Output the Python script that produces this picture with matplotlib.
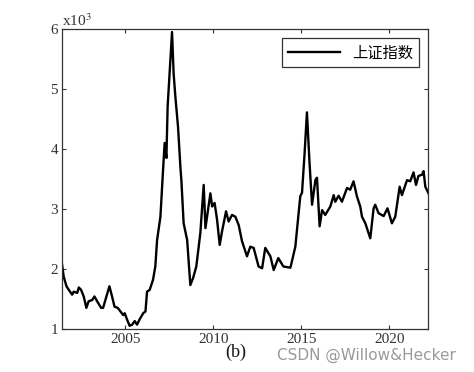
import matplotlib.pyplot as plt

# Shanghai composite index (in thousands)
years = [2001.40, 2001.49, 2001.65, 2001.78, 2001.97, 2002.06, 2002.26, 2002.35,
         2002.48, 2002.63, 2002.78, 2002.91, 2003.11, 2003.24, 2003.39, 2003.62,
         2003.73, 2003.92, 2004.09, 2004.24, 2004.38, 2004.56, 2004.72, 2004.87,
         2004.96, 2005.10, 2005.24, 2005.38, 2005.53, 2005.66, 2005.81, 2006.01,
         2006.14, 2006.23, 2006.38, 2006.57, 2006.70, 2006.80, 2006.99, 2007.14,
         2007.23, 2007.33, 2007.40, 2007.65, 2007.74, 2007.84, 2007.99, 2008.13,
         2008.18, 2008.31, 2008.51, 2008.69, 2008.85, 2009.03, 2009.26, 2009.45,
         2009.55, 2009.83, 2009.93, 2010.07, 2010.21, 2010.36, 2010.49, 2010.72,
         2010.87, 2011.06, 2011.25, 2011.44, 2011.63, 2011.91, 2012.10, 2012.29,
         2012.57, 2012.77, 2012.95, 2013.24, 2013.43, 2013.69, 2013.98, 2014.38,
         2014.66, 2014.94, 2015.04, 2015.18, 2015.32, 2015.46, 2015.61, 2015.80,
         2015.89, 2016.04, 2016.18, 2016.36, 2016.65, 2016.84, 2016.93, 2017.12,
         2017.31, 2017.60, 2017.78, 2017.97, 2018.16, 2018.35, 2018.45, 2018.64,
         2018.92, 2019.11, 2019.20, 2019.39, 2019.68, 2019.90, 2020.15, 2020.34,
         2020.59, 2020.72, 2021.01, 2021.19, 2021.38, 2021.52, 2021.66, 2021.86,
         2021.95, 2022.05, 2022.23]
index_k = [2.07, 1.87, 1.71, 1.65, 1.57, 1.62, 1.60, 1.69,
           1.65, 1.54, 1.35, 1.46, 1.48, 1.54, 1.46, 1.35,
           1.35, 1.54, 1.71, 1.54, 1.37, 1.35, 1.29, 1.23,
           1.26, 1.15, 1.05, 1.07, 1.13, 1.07, 1.16, 1.26,
           1.29, 1.62, 1.65, 1.82, 2.04, 2.48, 2.87, 3.65,
           4.10, 3.85, 4.71, 5.95, 5.26, 4.87, 4.37, 3.68,
           3.48, 2.76, 2.48, 1.73, 1.85, 2.04, 2.60, 3.40,
           2.68, 3.26, 3.04, 3.10, 2.82, 2.40, 2.62, 2.96,
           2.79, 2.90, 2.87, 2.73, 2.46, 2.21, 2.37, 2.35,
           2.04, 2.01, 2.35, 2.21, 1.98, 2.18, 2.04, 2.02,
           2.37, 3.21, 3.27, 3.90, 4.61, 3.80, 3.07, 3.48,
           3.52, 2.71, 2.98, 2.90, 3.04, 3.23, 3.12, 3.22,
           3.12, 3.35, 3.32, 3.46, 3.21, 3.04, 2.87, 2.76,
           2.51, 3.01, 3.07, 2.93, 2.88, 3.01, 2.76, 2.87,
           3.37, 3.23, 3.48, 3.46, 3.61, 3.40, 3.55, 3.57,
           3.63, 3.37, 3.26]

x_ticks = [2005, 2010, 2015, 2020]
y_ticks = [1, 2, 3, 4, 5, 6]

plt.rcParams['font.family'] = ['Liberation Serif', 'Noto Sans CJK SC']
plt.rcParams['mathtext.fontset'] = 'stix'

fig = plt.figure(figsize=(4.74, 3.72), dpi=100)
ax = fig.add_axes([0.131, 0.116, 0.773, 0.806])

ax.plot(years, index_k, color='black', lw=1.7, label='上证指数')
ax.set_xlim(years[0], years[-1])
ax.set_ylim(1, 6)
ax.set_xticks(x_ticks)
ax.set_yticks(y_ticks)
ax.tick_params(direction='in', top=True, right=True, length=3,
               labelsize=11, colors='#333333', pad=3)
for s in ax.spines.values():
    s.set_color('#333333')
    s.set_linewidth(0.9)

ax.text(0.0, 1.0, r'x10$^3$', transform=ax.transAxes, ha='left', va='bottom',
        fontsize=11, color='#333333')

leg = ax.legend(loc='upper right', fancybox=False, edgecolor='#333333',
                framealpha=1, handlelength=3.4, borderaxespad=0.6,
                prop={'family': ['Noto Sans CJK SC'], 'size': 11})
leg.get_frame().set_linewidth(0.9)

fig.text(0.498, 0.053, '(b)', ha='center', va='center', fontsize=13, color='#111111')
fig.text(0.773, 0.045, 'CSDN @Willow&Hecker', ha='center', va='center',
         fontsize=11, color='#999999', family='DejaVu Sans')

fig.savefig('out.png', dpi=100)
